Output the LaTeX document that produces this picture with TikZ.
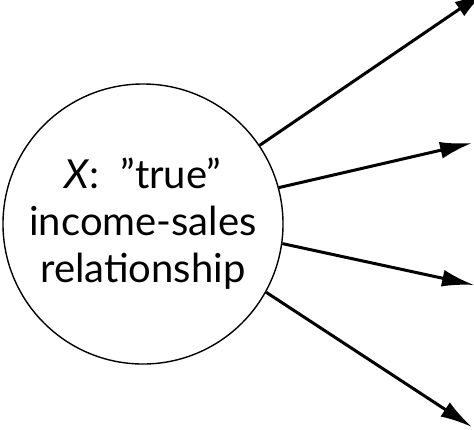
\documentclass[tikz,border=0pt]{standalone}
\usepackage{fontspec}
\setmainfont{Lato}
\usetikzlibrary{arrows.meta}
\tikzset{arr/.style={-{Latex[length=16pt,width=8.5pt]},line width=1.5pt}}
\begin{document}
\begin{tikzpicture}[x=0.5pt,y=-0.5pt]
    \useasboundingbox (0,0) rectangle (474,429);
    \node[circle,draw,line width=0.7pt,minimum size=140pt,align=center,font=\fontsize{20}{23.5}\selectfont] at (143,224) (x) {\textit{X}:\ \ ''true''\\income-sales\\relationship};
    \coordinate (e1) at (486,-9);
    \coordinate (e2) at (472,143);
    \coordinate (e3) at (474,285);
    \coordinate (e4) at (472,427);
    \draw[arr] (x.34)--(e1);
    \draw[arr] (x.15)--(e2);
    \draw[arr] (x.-8)--(e3);
    \draw[arr] (x.-29)--(e4);
\end{tikzpicture}
\end{document}
